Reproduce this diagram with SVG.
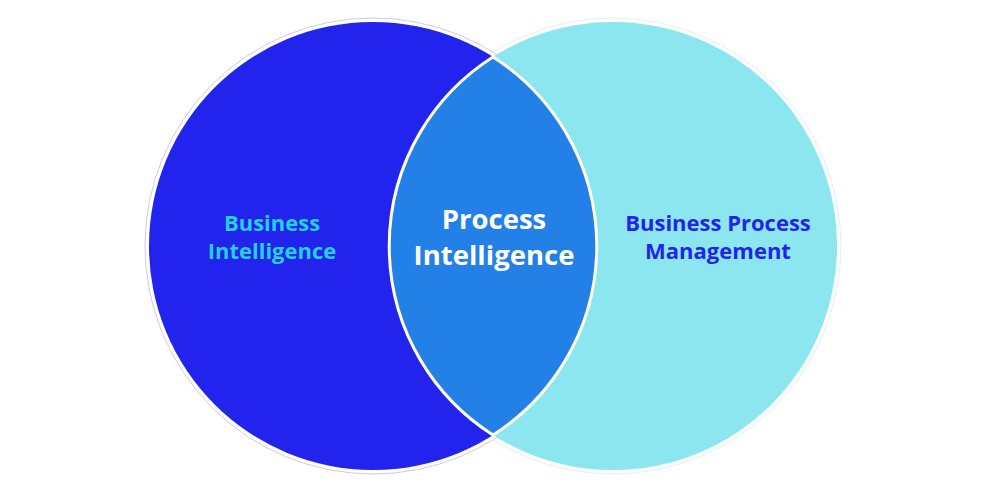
<svg xmlns="http://www.w3.org/2000/svg" width="1000" height="500" viewBox="0 0 1000 500">
<style>
.lbl{font-family:"Open Sans","Noto Sans","Liberation Sans",sans-serif;font-weight:700;text-anchor:middle}
.sm{font-size:22px}
.lg{font-size:27.5px}
</style>
<rect width="1000" height="500" fill="#ffffff"/>
<g id="rings">
<circle cx="373" cy="246" r="228" fill="none" stroke="#c9c9fa" stroke-width="1"/>
<circle cx="613" cy="246" r="228" fill="none" stroke="#d6f4f8" stroke-width="1"/>
</g>
<g id="left-circle">
<circle cx="373" cy="246" r="224" fill="#2323EE"/>
</g>
<g id="right-circle">
<circle cx="613" cy="246" r="224" fill="#8CE6F0"/>
</g>
<g id="intersection">
<path d="M493,57 A224,224 0 0 1 493,435 A224,224 0 0 1 493,57 Z" fill="#2280E6" stroke="#ffffff" stroke-width="3"/>
</g>
<g id="labels">
<text class="lbl sm" x="272" y="231" fill="#22D0E8">Business</text>
<text class="lbl sm" x="272" y="259" fill="#22D0E8">Intelligence</text>
<text class="lbl lg" x="494" y="229" fill="#ffffff">Process</text>
<text class="lbl lg" x="494" y="265" fill="#ffffff">Intelligence</text>
<text class="lbl sm" x="718" y="231" fill="#2323EE">Business Process</text>
<text class="lbl sm" x="718" y="259" fill="#2323EE">Management</text>
</g>
<g id="connectors"></g>
</svg>
